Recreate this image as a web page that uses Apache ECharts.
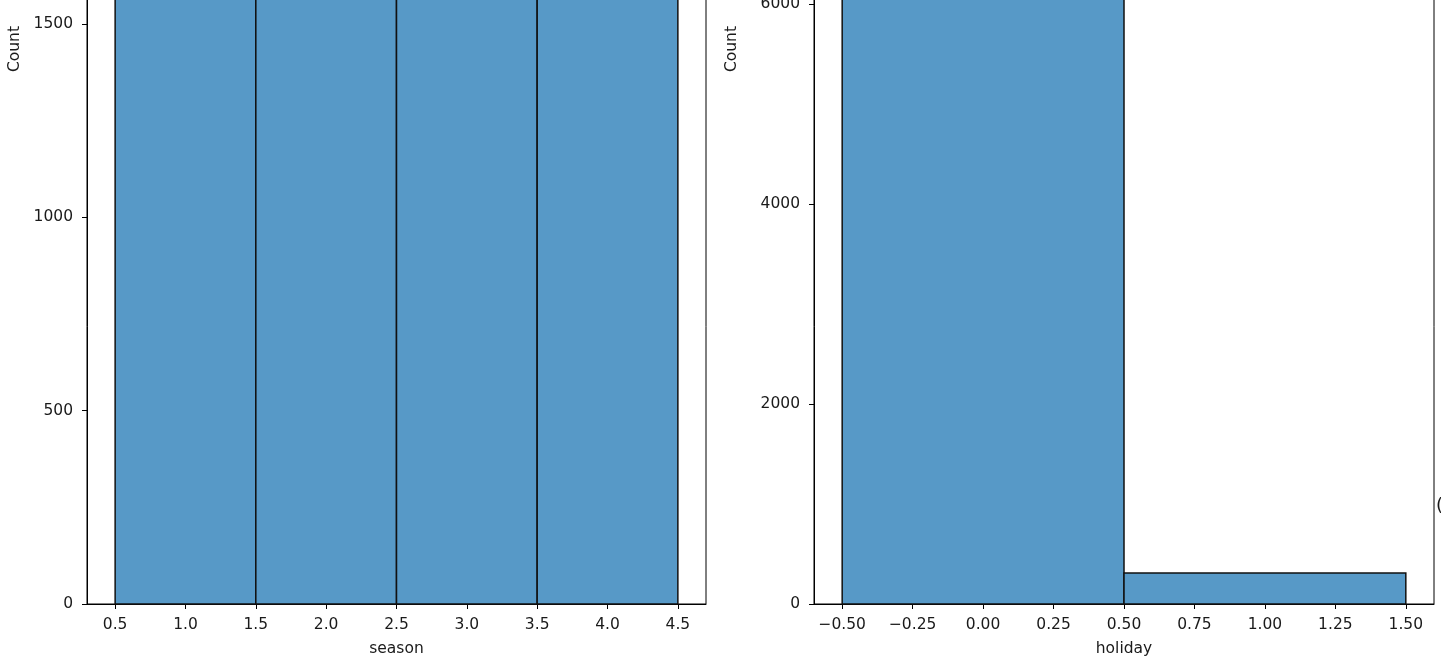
<!DOCTYPE html>
<html>
<head>
<meta charset="utf-8">
<script src="https://cdn.jsdelivr.net/npm/echarts@6/dist/echarts.min.js"></script>
<style>
  html, body { margin: 0; padding: 0; background: #fff; overflow: hidden; }
  /* the reference figure is cut at the top, so the chart is taller than the page and shifted up */
  #chart { width: 1441px; height: 1174px; margin-top: -506px; }
</style>
</head>
<body>
<div id="chart"></div>
<script>
// histogram bins (edges) and counts
const seasonEdges = [0.5, 1.5, 2.5, 3.5, 4.5];
const seasonCounts = [2686, 2733, 2733, 2734];
const holidayEdges = [-0.5, 0.5, 1.5];
const holidayCounts = [10575, 311];
const seasonXTicks = [0.5, 1.0, 1.5, 2.0, 2.5, 3.0, 3.5, 4.0, 4.5];
const holidayXTicks = [-0.5, -0.25, 0, 0.25, 0.5, 0.75, 1.0, 1.25, 1.5];
const seasonYTicks = [0, 500, 1000, 1500, 2000, 2500];
const holidayYTicks = [0, 2000, 4000, 6000, 8000, 10000];

const shift = 506;
const barFill = "#5799c7";
const font = "DejaVu Sans";
const textColor = "#1a1a1a";

function toBins(edges, counts) {
  let bins = [];
  for (let i = 0; i < counts.length; i++) {
    bins.push([edges[i], edges[i + 1], counts[i]]);
  }
  return bins;
}

function renderBin(params, api) {
  let p0 = api.coord([api.value(0), 0]);
  let p1 = api.coord([api.value(1), api.value(2)]);
  return {
    type: "rect",
    shape: { x: p0[0], y: p1[1], width: p1[0] - p0[0], height: p0[1] - p1[1] },
    style: { fill: barFill, stroke: "#111", lineWidth: 1.5 },
  };
}

function xAxisOf(idx, edges, ticks, name, digits) {
  let span = edges[edges.length - 1] - edges[0];
  return {
    gridIndex: idx,
    type: "value",
    name: name,
    nameLocation: "middle",
    nameGap: 37,
    nameTextStyle: { color: textColor, fontFamily: font, fontSize: 15.5 },
    min: edges[0] - span * 0.05,
    max: edges[edges.length - 1] + span * 0.05,
    splitLine: { show: false },
    axisLine: { onZero: false, lineStyle: { color: "#000", width: 1 } },
    axisTick: { show: true, length: 5, customValues: ticks, lineStyle: { color: "#000" } },
    axisLabel: {
      color: textColor, fontFamily: font, fontSize: 15.5, margin: 13,
      customValues: ticks,
      formatter: (v) => v.toFixed(digits).replace("-", "\u2212"),
    },
  };
}

function yAxisOf(idx, counts, ticks) {
  return {
    gridIndex: idx,
    type: "value",
    name: "Count",
    nameLocation: "middle",
    nameGap: idx == 0 ? 64 : 74,
    nameTextStyle: { color: textColor, fontFamily: font, fontSize: 15.5 },
    min: 0,
    max: Math.max(...counts) * 1.05,
    splitLine: { show: false },
    axisLine: { show: true, onZero: false, lineStyle: { color: "#000", width: 1 } },
    axisTick: { show: true, length: 5, customValues: ticks, lineStyle: { color: "#000" } },
    axisLabel: {
      color: textColor, fontFamily: font, fontSize: 15.5, margin: 14,
      customValues: ticks,
      formatter: (v) => String(v),
    },
  };
}

const myChart = echarts.init(document.getElementById("chart"));
myChart.setOption({
  animation: false,
  backgroundColor: "#fff",
  grid: [
    { left: 87, width: 619, top: 0, height: 1110, show: true, borderColor: "#000", borderWidth: 1 },
    { left: 814, width: 620, top: 0, height: 1110, show: true, borderColor: "#000", borderWidth: 1 },
  ],
  xAxis: [
    xAxisOf(0, seasonEdges, seasonXTicks, "season", 1),
    xAxisOf(1, holidayEdges, holidayXTicks, "holiday", 2),
  ],
  yAxis: [
    yAxisOf(0, seasonCounts, seasonYTicks),
    yAxisOf(1, holidayCounts, holidayYTicks),
  ],
  series: [
    {
      type: "custom", xAxisIndex: 0, yAxisIndex: 0,
      renderItem: renderBin, data: toBins(seasonEdges, seasonCounts),
    },
    {
      type: "custom", xAxisIndex: 1, yAxisIndex: 1,
      renderItem: renderBin, data: toBins(holidayEdges, holidayCounts),
    },
  ],
  graphic: [
    {
      type: "text", left: 1436, top: 497 + shift,
      style: { text: "(", fill: textColor, font: "18px DejaVu Sans" },
    },
  ],
});
</script>
</body>
</html>
